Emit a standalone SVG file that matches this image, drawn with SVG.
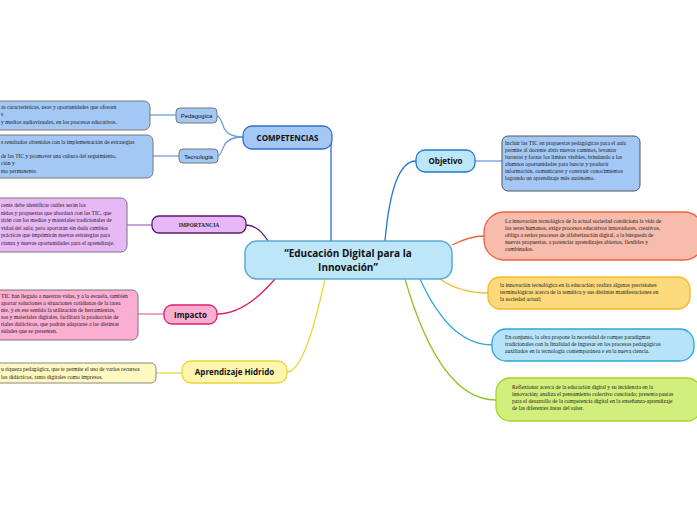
<svg xmlns="http://www.w3.org/2000/svg" width="697" height="520" viewBox="0 0 697 520">
<style>
.t{font-family:"Liberation Serif",serif;font-size:5.6px;fill:#222}
.b{font-family:"Open Sans","Liberation Sans",sans-serif;font-weight:bold;fill:#111}
.s{font-family:"Liberation Sans",sans-serif;font-size:6px;fill:#111}
.c{fill:none;stroke-width:1.3}
</style>
<rect width="697" height="520" fill="#fff"/>
<g id="connectors">
<path class="c" stroke="#2f6fc5" d="M331 241 V150 Q331 137 332 137"/>
<path class="c" stroke="#6a9ee0" d="M243 137 Q228 137 224 128 Q220 116 217 116"/>
<path class="c" stroke="#6a9ee0" d="M243 137 Q228 137 224 146 Q220 156 218 156"/>
<path class="c" stroke="#6a9ee0" d="M150 115 H176"/>
<path class="c" stroke="#6a9ee0" d="M153 156 H179"/>
<path class="c" stroke="#1f78d0" d="M385 241 Q392 161 416 161"/>
<path class="c" stroke="#6a9ee0" d="M475 161 H502"/>
<path class="c" stroke="#f06040" d="M452 245 Q470 236 484 236"/>
<path class="c" stroke="#f5b82a" d="M440 279 Q460 293 488 293"/>
<path class="c" stroke="#2aa6e0" d="M420 279 Q450 345 492 345"/>
<path class="c" stroke="#8cc424" d="M405 279 Q440 400 496 400"/>
<path class="c" stroke="#5a1a6a" d="M268 241 Q258 225 246 225"/>
<path class="c" stroke="#b070c0" d="M127 225 H152"/>
<path class="c" stroke="#e0206a" d="M275 279 Q245 314 217 314"/>
<path class="c" stroke="#f070a0" d="M138 314 H164"/>
<path class="c" stroke="#e8d63a" d="M325 279 Q305 372 287 372"/>
<path class="c" stroke="#e8d63a" d="M156 373 H182"/>
</g>
<g id="center">
<rect x="245" y="241" width="207" height="38" rx="12" fill="#bde6f8" stroke="#5aa9d6" stroke-width="1.5"/>
<text class="b" font-size="10" text-anchor="middle" x="348" y="257">“Educación Digital para la</text>
<text class="b" font-size="10" text-anchor="middle" x="348" y="271">Innovación”</text>
</g>
<g id="competencias">
<rect x="243" y="126" width="89" height="23" rx="9" fill="#a4c8f6" stroke="#2f6fc5" stroke-width="1.3"/>
<text class="b" font-size="8" text-anchor="middle" x="287.5" y="140.5">COMPETENCIAS</text>
</g>
<g id="pedagogica">
<rect x="176" y="108" width="41" height="15" rx="4" fill="#a4c8f6" stroke="#777"/>
<text class="s" text-anchor="middle" x="196.5" y="118">Pedagogica</text>
<rect x="-10" y="101" width="160" height="29" rx="6" fill="#a4c8f6" stroke="#777"/>
<text class="t" x="1" y="109">as características, usos y oportunidades que ofrecen</text>
<text class="t" x="1" y="116">s</text>
<text class="t" x="1" y="124">y medios audiovisuales, en los procesos educativos.</text>
</g>
<g id="tecnologia">
<rect x="179" y="149" width="39" height="14" rx="4" fill="#a4c8f6" stroke="#777"/>
<text class="s" text-anchor="middle" x="198.5" y="158.5">Tecnologia</text>
<rect x="-10" y="135" width="163" height="43" rx="6" fill="#a4c8f6" stroke="#777"/>
<text class="t" x="1" y="144">s resultados obtenidos con la implementación de estrategias</text>
<text class="t" x="1" y="158">de las TIC y promover una cultura del seguimiento,</text>
<text class="t" x="1" y="165">ción y</text>
<text class="t" x="1" y="173">nto permanente.</text>
</g>
<g id="importancia">
<rect x="152" y="216" width="94" height="17" rx="7" fill="#e8b8f6" stroke="#5a1a6a" stroke-width="1.3"/>
<text class="t" font-weight="bold" font-size="6" text-anchor="middle" x="199" y="227">IMPORTANCIA</text>
<rect x="-10" y="198" width="137" height="54" rx="6" fill="#e8b8f6" stroke="#777"/>
<text class="t" x="1" y="207">cente debe identificar cuáles serán los</text>
<text class="t" x="1" y="214.5">nidos y propuestas que abordará con las TIC, que</text>
<text class="t" x="1" y="222">rirán con los medios y materiales tradicionales de</text>
<text class="t" x="1" y="229.5">vidad del aula; pero aportarán sin duda cambios</text>
<text class="t" x="1" y="237">prácticas que imprimirán nuevas estrategias para</text>
<text class="t" x="1" y="244.5">ctanza y nuevas oportunidades para el aprendizaje.</text>
</g>
<g id="impacto">
<rect x="164" y="305" width="53" height="19" rx="8" fill="#fbaed2" stroke="#e0206a" stroke-width="1.3"/>
<text class="b" font-size="8" text-anchor="middle" x="190.5" y="317.5">Impacto</text>
<rect x="-10" y="290" width="148" height="50" rx="6" fill="#fbaed2" stroke="#777"/>
<text class="t" x="1" y="298">TIC han llegado a nuestras vidas, y a la escuela, también</text>
<text class="t" x="1" y="305">aportar soluciones a situaciones cotidianas de la tarea</text>
<text class="t" x="1" y="312">nte, y en ese sentido la utilización de herramientas,</text>
<text class="t" x="1" y="319">sos y materiales digitales, facilitará la producción de</text>
<text class="t" x="1" y="326">riales didácticos, que podrán adaptarse a las distintas</text>
<text class="t" x="1" y="333">sidades que se presenten.</text>
</g>
<g id="aprendizaje">
<rect x="182" y="361" width="105" height="22" rx="9" fill="#fbf5b0" stroke="#e8d63a" stroke-width="1.3"/>
<text class="b" font-size="8" text-anchor="middle" x="234.5" y="375">Aprendizaje Hidrido</text>
<rect x="-10" y="363" width="166" height="20" rx="5" fill="#fff8c0" stroke="#888"/>
<text class="t" x="1" y="371">u riqueza pedagógica, que te permite el uso de varios recursos</text>
<text class="t" x="1" y="378.5">los didácticos, tanto digitales como impresos.</text>
</g>
<g id="objetivo">
<rect x="416" y="150" width="59" height="22" rx="9" fill="#bde6f8" stroke="#1f78d0" stroke-width="1.3"/>
<text class="b" font-size="8" text-anchor="middle" x="445.5" y="164">Objetivo</text>
<rect x="502" y="136" width="138" height="55" rx="6" fill="#a4c8f6" stroke="#555"/>
<text class="t" x="505" y="145">Incluir las TIC en propuestas pedagógicas para el aula</text>
<text class="t" x="505" y="152">permite al docente abrir nuevos caminos, levantar</text>
<text class="t" x="505" y="159">barreras y forzar los límites visibles, brindando a los</text>
<text class="t" x="505" y="166">alumnos oportunidades para buscar y producir</text>
<text class="t" x="505" y="173">información, comunicarse y construir conocimientos</text>
<text class="t" x="505" y="180">logrando un aprendizaje más autónomo.</text>
</g>
<g id="innovacion">
<rect x="484" y="212" width="220" height="48" rx="20" fill="#f7bcac" stroke="#f06040" stroke-width="1.3"/>
<text class="t" x="505" y="223">La innovación tecnológica de la actual sociedad  condiciona la vida de</text>
<text class="t" x="505" y="230">los seres humanos, exige procesos educativos innovadores, creativos,</text>
<text class="t" x="505" y="237">obliga a serios procesos de alfabetización digital, a la búsqueda de</text>
<text class="t" x="505" y="244">nuevas propuestas, a potenciar aprendizajes abiertos, flexibles y</text>
<text class="t" x="505" y="251">combinados.</text>
</g>
<g id="educacion">
<rect x="488" y="277" width="202" height="32" rx="12" fill="#fcd97a" stroke="#f5b82a" stroke-width="1.3"/>
<text class="t" x="500" y="287">la innovación tecnológica en la educación; realiza algunas precisiones</text>
<text class="t" x="500" y="294">terminológicas acerca de la temática y sus distintas manifestaciones en</text>
<text class="t" x="500" y="301">la sociedad actual;</text>
</g>
<g id="conjunto">
<rect x="492" y="329" width="202" height="32" rx="14" fill="#b6e3f8" stroke="#2aa6e0" stroke-width="1.3"/>
<text class="t" x="505" y="339">En conjunto, la obra propone la necesidad de romper paradigmas</text>
<text class="t" x="505" y="346">tradicionales con la finalidad de ingresar en los procesos pedagógicos</text>
<text class="t" x="505" y="353">auxiliados en la tecnología contemporánea e en la nueva ciencia.</text>
</g>
<g id="reflexionar">
<rect x="496" y="378" width="205" height="43" rx="14" fill="#d2ee7c" stroke="#a8d42a" stroke-width="1.3"/>
<text class="t" x="512" y="389">Reflexionar acerca de la educación digital y su incidencia en la</text>
<text class="t" x="512" y="396">innovación; analiza el pensamiento colectivo concitado; presenta pautas</text>
<text class="t" x="512" y="403">para el desarrollo de la competencia digital en la enseñanza-aprendizaje</text>
<text class="t" x="512" y="410">de las diferentes áreas del saber.</text>
</g>
</svg>
